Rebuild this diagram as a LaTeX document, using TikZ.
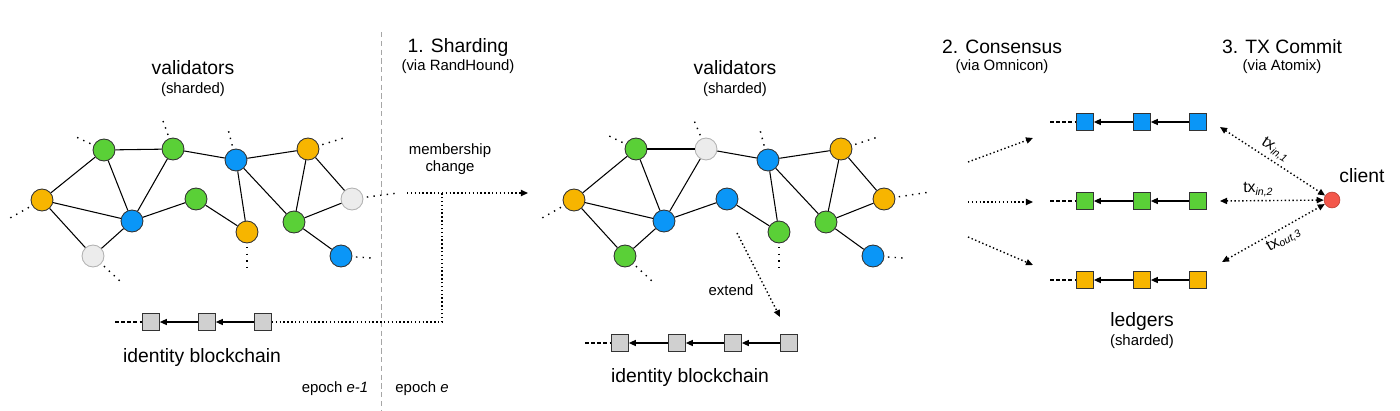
\documentclass[tikz,border=0pt]{standalone}
\usepackage{fontspec}
\setmainfont{Liberation Sans}
\usetikzlibrary{arrows.meta}
\definecolor{vgreen}{RGB}{90,208,55}
\definecolor{vblue}{RGB}{10,150,247}
\definecolor{vorange}{RGB}{247,181,0}
\definecolor{vgray}{RGB}{236,236,236}
\definecolor{blkgray}{RGB}{208,208,208}
\definecolor{vred}{RGB}{243,87,75}
\tikzset{
    vnode/.style={circle, draw=black!80, line width=0.5pt, minimum size=12.5pt, inner sep=0pt},
    wnode/.style={vnode, fill=vgray, draw=black!30},
    blk/.style={rectangle, draw=black!80, line width=0.6pt, minimum size=9.5pt, inner sep=0pt, fill=blkgray},
    edge/.style={line width=0.6pt},
    stub/.style={line width=0.8pt, dash pattern=on 0.8pt off 3pt, shorten <=2pt},
    dotline/.style={line width=0.8pt, dash pattern=on 0.8pt off 1.4pt},
    dotarrow/.style={dotline, -{Triangle[length=4pt,width=3.5pt]}},
    txarrow/.style={dotline, {Triangle[length=4pt,width=3.5pt]}-{Triangle[length=4pt,width=3.5pt]}},
    chainarrow/.style={line width=0.6pt, -{Triangle[length=4pt,width=3.5pt]}},
    tailstub/.style={line width=0.6pt, dash pattern=on 2pt off 1.5pt},
    divider/.style={black!35, line width=0.5pt, dash pattern=on 3pt off 2pt},
    bigtext/.style={font=\fontsize{11}{13}\selectfont},
    smalltext/.style={font=\fontsize{8.5}{10}\selectfont},
    txtext/.style={font=\fontsize{9}{10}\selectfont, inner sep=2pt}
}
\begin{document}
\begin{tikzpicture}[x=0.02cm,y=-0.02cm]
            \useasboundingbox (0,0) rectangle (1400,410);
            \coordinate (dtop) at (381,32);
            \coordinate (dbot) at (381,410);
            \draw[divider] (dtop) -- (dbot);
            \node[bigtext] (atit) at (193,68) {validators};
            \node[smalltext] (asub) at (193,90) {(sharded)};
            \node[bigtext] (btit) at (735,68) {validators};
            \node[smalltext] (bsub) at (735,90) {(sharded)};
            \node[bigtext] (s1tit) at (458,47) {1. Sharding};
            \node[smalltext] (s1sub) at (458,67) {(via RandHound)};
            \node[bigtext] (s2tit) at (1002,47) {2. Consensus};
            \node[smalltext] (s2sub) at (1002,67) {(via Omnicon)};
            \node[bigtext] (s3tit) at (1282,47) {3. TX Commit};
            \node[smalltext] (s3sub) at (1282,67) {(via Atomix)};
            \node[vnode,fill=vgreen] (ag1) at (104,150) {};
            \node[vnode,fill=vgreen] (ag2) at (173,149) {};
            \node[vnode,fill=vblue] (ab1) at (236,160) {};
            \node[vnode,fill=vorange] (ao1) at (308,149) {};
            \node[vnode,fill=vorange] (ao2) at (42,200) {};
            \node[vnode,fill=vblue] (ab2) at (132,221) {};
            \node[vnode,fill=vgreen] (ag3) at (196,199) {};
            \node[vnode,fill=vorange] (ao3) at (247,232) {};
            \node[vnode,fill=vgreen] (ag4) at (294,222) {};
            \node[wnode] (aw1) at (352,199) {};
            \node[wnode] (aw2) at (93,256) {};
            \node[vnode,fill=vblue] (ab3) at (341,256) {};
            \foreach \u/\v in {ag1/ag2, ag2/ab1, ab1/ao1, ao2/ag1, ag1/ab2, ag2/ab2, ao2/ab2, ao2/aw2, aw2/ab2, ab2/ag3, ag3/ao3, ab1/ao3, ab1/ag4, ao1/ag4, ao1/aw1, ag4/aw1, ag4/ab3}
                \draw[edge] (\u) -- (\v);
            \foreach \n/\x/\y in {ag1/74/136, ag2/162/118, ab1/228/129, ao1/347/137, ao2/10/218, aw2/121/282, ao3/247/267, ab3/372/258, aw1/398/193}{
                \coordinate (\n s) at (\x,\y);
                \draw[stub] (\n) -- (\n s);
            }
            \node[vnode,fill=vgreen] (bg1) at (636,149) {};
            \node[wnode] (bw1) at (706,149) {};
            \node[vnode,fill=vblue] (bb1) at (768,160) {};
            \node[vnode,fill=vorange] (bo1) at (841,149) {};
            \node[vnode,fill=vorange] (bo2) at (574,200) {};
            \node[vnode,fill=vblue] (bb2) at (664,221) {};
            \node[vnode,fill=vblue] (bb3) at (727,199) {};
            \node[vnode,fill=vgreen] (bg2) at (779,232) {};
            \node[vnode,fill=vgreen] (bg3) at (826,222) {};
            \node[vnode,fill=vorange] (bo3) at (884,199) {};
            \node[vnode,fill=vgreen] (bg4) at (625,256) {};
            \node[vnode,fill=vblue] (bb4) at (873,256) {};
            \foreach \u/\v in {bg1/bw1, bw1/bb1, bb1/bo1, bo2/bg1, bg1/bb2, bw1/bb2, bo2/bb2, bo2/bg4, bg4/bb2, bb2/bb3, bb3/bg2, bb1/bg2, bb1/bg3, bo1/bg3, bo1/bo3, bg3/bo3, bg3/bb4}
                \draw[edge] (\u) -- (\v);
            \foreach \n/\x/\y in {bg1/607/135, bw1/693/118, bb1/760/130, bo1/878/137, bo2/542/218, bg4/653/282, bg2/779/267, bb4/903/258, bo3/930/192}{
                \coordinate (\n s) at (\x,\y);
                \draw[stub] (\n) -- (\n s);
            }
            \node[blk] (ic1) at (151,322) {};
            \node[blk] (ic2) at (207,322) {};
            \node[blk] (ic3) at (263,322) {};
            \coordinate (ict) at (115,322);
            \draw[tailstub] (ict) -- (ic1);
            \draw[chainarrow] (ic2) -- (ic1);
            \draw[chainarrow] (ic3) -- (ic2);
            \node[bigtext] (iclab) at (202,357) {identity blockchain};
            \node[smalltext] (ep1) at (335,389) {epoch \textit{e-1}};
            \node[smalltext] (ep2) at (422,389) {epoch \textit{e}};
            \coordinate (mstart) at (407,193);
            \coordinate (mend) at (528,193);
            \coordinate (mjoin) at (442,193);
            \draw[dotarrow] (mstart) -- (mend);
            \draw[dotline] (ic3) -| (mjoin);
            \node[smalltext, align=center] (mlab) at (450,159) {membership\\change};
            \node[blk] (jc1) at (620,343) {};
            \node[blk] (jc2) at (677,343) {};
            \node[blk] (jc3) at (733,343) {};
            \node[blk] (jc4) at (789,343) {};
            \coordinate (jct) at (585,343);
            \draw[tailstub] (jct) -- (jc1);
            \draw[chainarrow] (jc2) -- (jc1);
            \draw[chainarrow] (jc3) -- (jc2);
            \draw[chainarrow] (jc4) -- (jc3);
            \node[bigtext] (jclab) at (690,377) {identity blockchain};
            \coordinate (xs) at (737,233);
            \coordinate (xe) at (780,317);
            \draw[dotarrow] (xs) -- (xe);
            \node[smalltext] (xlab) at (731,290) {extend};
            \foreach \r/\y/\c in {b/122/vblue, g/201/vgreen, o/280/vorange}{
                \node[blk,fill=\c] (l\r1) at (1085,\y) {};
                \node[blk,fill=\c] (l\r2) at (1142,\y) {};
                \node[blk,fill=\c] (l\r3) at (1198,\y) {};
                \coordinate (l\r t) at (1050,\y);
                \draw[tailstub] (l\r t) -- (l\r1);
                \draw[chainarrow] (l\r2) -- (l\r1);
                \draw[chainarrow] (l\r3) -- (l\r2);
            }
            \node[bigtext] (llab) at (1142,321) {ledgers};
            \node[smalltext] (lsub) at (1142,342) {(sharded)};
            \foreach \k/\ya/\yb in {1/162/138, 2/202/202, 3/237/265}{
                \coordinate (cs\k) at (968,\ya);
                \coordinate (ce\k) at (1033,\yb);
                \draw[dotarrow] (cs\k) -- (ce\k);
            }
            \node[circle, draw=vred!80!black, line width=0.4pt, fill=vred, minimum size=9pt, inner sep=0pt] (cl) at (1332,200) {};
            \node[bigtext] (cllab) at (1362,176) {client};
            \coordinate (t1) at (1220,127);
            \coordinate (t2) at (1220,201);
            \coordinate (t3) at (1222,262);
            \draw[txarrow] (t1) -- node[txtext, sloped, above, pos=0.47] (tx1) {tx\textsubscript{\itshape in,1}} (cl);
            \draw[txarrow] (t2) -- node[txtext, above, pos=0.37] (tx2) {tx\textsubscript{\itshape in,2}} (cl);
            \draw[txarrow] (t3) -- node[txtext, sloped, below, pos=0.55] (tx3) {tx\textsubscript{\itshape out,3}} (cl);
        \end{tikzpicture}
\end{document}
